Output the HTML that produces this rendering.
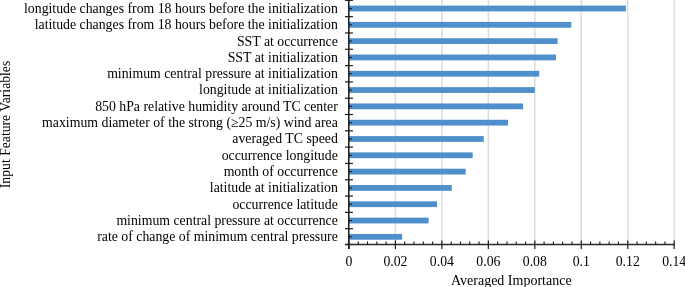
<!DOCTYPE html><html><head><meta charset="utf-8"><style>html,body{margin:0;padding:0;background:#fff;overflow:hidden}svg{display:block}text{font-family:"Liberation Serif","Times New Roman",serif;fill:#000}</style></head><body>
<svg width="685" height="287" viewBox="0 0 685 287">
<line x1="395.42" y1="0" x2="395.42" y2="244.50" stroke="#dcdcdc" stroke-width="1.5"/>
<line x1="441.88" y1="0" x2="441.88" y2="244.50" stroke="#dcdcdc" stroke-width="1.5"/>
<line x1="488.35" y1="0" x2="488.35" y2="244.50" stroke="#dcdcdc" stroke-width="1.5"/>
<line x1="534.81" y1="0" x2="534.81" y2="244.50" stroke="#dcdcdc" stroke-width="1.5"/>
<line x1="581.28" y1="0" x2="581.28" y2="244.50" stroke="#dcdcdc" stroke-width="1.5"/>
<line x1="627.75" y1="0" x2="627.75" y2="244.50" stroke="#dcdcdc" stroke-width="1.5"/>
<line x1="674.21" y1="0" x2="674.21" y2="244.50" stroke="#dcdcdc" stroke-width="1.5"/>
<rect x="348.95" y="5.60" width="276.95" height="5.8" fill="#4f8fcb"/>
<rect x="348.95" y="21.91" width="222.35" height="5.8" fill="#4f8fcb"/>
<rect x="348.95" y="38.23" width="208.65" height="5.8" fill="#4f8fcb"/>
<rect x="348.95" y="54.53" width="207.05" height="5.8" fill="#4f8fcb"/>
<rect x="348.95" y="70.84" width="190.25" height="5.8" fill="#4f8fcb"/>
<rect x="348.95" y="87.15" width="185.85" height="5.8" fill="#4f8fcb"/>
<rect x="348.95" y="103.46" width="174.15" height="5.8" fill="#4f8fcb"/>
<rect x="348.95" y="119.77" width="159.05" height="5.8" fill="#4f8fcb"/>
<rect x="348.95" y="136.08" width="134.75" height="5.8" fill="#4f8fcb"/>
<rect x="348.95" y="152.39" width="123.75" height="5.8" fill="#4f8fcb"/>
<rect x="348.95" y="168.70" width="116.75" height="5.8" fill="#4f8fcb"/>
<rect x="348.95" y="185.01" width="102.85" height="5.8" fill="#4f8fcb"/>
<rect x="348.95" y="201.32" width="88.05" height="5.8" fill="#4f8fcb"/>
<rect x="348.95" y="217.63" width="79.65" height="5.8" fill="#4f8fcb"/>
<rect x="348.95" y="233.94" width="53.15" height="5.8" fill="#4f8fcb"/>
<line x1="348.80" y1="0" x2="348.80" y2="249.00" stroke="#111" stroke-width="1.45"/>
<line x1="344.95" y1="0.35" x2="352.95" y2="0.35" stroke="#1a1a1a" stroke-width="1.2"/>
<line x1="344.95" y1="16.66" x2="352.95" y2="16.66" stroke="#1a1a1a" stroke-width="1.2"/>
<line x1="344.95" y1="32.97" x2="352.95" y2="32.97" stroke="#1a1a1a" stroke-width="1.2"/>
<line x1="344.95" y1="49.28" x2="352.95" y2="49.28" stroke="#1a1a1a" stroke-width="1.2"/>
<line x1="344.95" y1="65.59" x2="352.95" y2="65.59" stroke="#1a1a1a" stroke-width="1.2"/>
<line x1="344.95" y1="81.90" x2="352.95" y2="81.90" stroke="#1a1a1a" stroke-width="1.2"/>
<line x1="344.95" y1="98.21" x2="352.95" y2="98.21" stroke="#1a1a1a" stroke-width="1.2"/>
<line x1="344.95" y1="114.52" x2="352.95" y2="114.52" stroke="#1a1a1a" stroke-width="1.2"/>
<line x1="344.95" y1="130.83" x2="352.95" y2="130.83" stroke="#1a1a1a" stroke-width="1.2"/>
<line x1="344.95" y1="147.14" x2="352.95" y2="147.14" stroke="#1a1a1a" stroke-width="1.2"/>
<line x1="344.95" y1="163.45" x2="352.95" y2="163.45" stroke="#1a1a1a" stroke-width="1.2"/>
<line x1="344.95" y1="179.76" x2="352.95" y2="179.76" stroke="#1a1a1a" stroke-width="1.2"/>
<line x1="344.95" y1="196.07" x2="352.95" y2="196.07" stroke="#1a1a1a" stroke-width="1.2"/>
<line x1="344.95" y1="212.38" x2="352.95" y2="212.38" stroke="#1a1a1a" stroke-width="1.2"/>
<line x1="344.95" y1="228.69" x2="352.95" y2="228.69" stroke="#1a1a1a" stroke-width="1.2"/>
<line x1="344.95" y1="244.50" x2="352.95" y2="244.50" stroke="#1a1a1a" stroke-width="1.2"/>
<line x1="348.95" y1="8.50" x2="351.95" y2="8.50" stroke="#1a1a1a" stroke-width="1.1"/>
<line x1="348.95" y1="24.81" x2="351.95" y2="24.81" stroke="#1a1a1a" stroke-width="1.1"/>
<line x1="348.95" y1="41.12" x2="351.95" y2="41.12" stroke="#1a1a1a" stroke-width="1.1"/>
<line x1="348.95" y1="57.43" x2="351.95" y2="57.43" stroke="#1a1a1a" stroke-width="1.1"/>
<line x1="348.95" y1="73.74" x2="351.95" y2="73.74" stroke="#1a1a1a" stroke-width="1.1"/>
<line x1="348.95" y1="90.05" x2="351.95" y2="90.05" stroke="#1a1a1a" stroke-width="1.1"/>
<line x1="348.95" y1="106.36" x2="351.95" y2="106.36" stroke="#1a1a1a" stroke-width="1.1"/>
<line x1="348.95" y1="122.67" x2="351.95" y2="122.67" stroke="#1a1a1a" stroke-width="1.1"/>
<line x1="348.95" y1="138.98" x2="351.95" y2="138.98" stroke="#1a1a1a" stroke-width="1.1"/>
<line x1="348.95" y1="155.29" x2="351.95" y2="155.29" stroke="#1a1a1a" stroke-width="1.1"/>
<line x1="348.95" y1="171.60" x2="351.95" y2="171.60" stroke="#1a1a1a" stroke-width="1.1"/>
<line x1="348.95" y1="187.91" x2="351.95" y2="187.91" stroke="#1a1a1a" stroke-width="1.1"/>
<line x1="348.95" y1="204.22" x2="351.95" y2="204.22" stroke="#1a1a1a" stroke-width="1.1"/>
<line x1="348.95" y1="220.53" x2="351.95" y2="220.53" stroke="#1a1a1a" stroke-width="1.1"/>
<line x1="348.95" y1="236.84" x2="351.95" y2="236.84" stroke="#1a1a1a" stroke-width="1.1"/>
<line x1="344.95" y1="244.50" x2="674.71" y2="244.50" stroke="#2a2a2a" stroke-width="1.4"/>
<line x1="348.95" y1="240.50" x2="348.95" y2="249.00" stroke="#1a1a1a" stroke-width="1.2"/>
<line x1="395.42" y1="240.50" x2="395.42" y2="249.00" stroke="#1a1a1a" stroke-width="1.2"/>
<line x1="441.88" y1="240.50" x2="441.88" y2="249.00" stroke="#1a1a1a" stroke-width="1.2"/>
<line x1="488.35" y1="240.50" x2="488.35" y2="249.00" stroke="#1a1a1a" stroke-width="1.2"/>
<line x1="534.81" y1="240.50" x2="534.81" y2="249.00" stroke="#1a1a1a" stroke-width="1.2"/>
<line x1="581.28" y1="240.50" x2="581.28" y2="249.00" stroke="#1a1a1a" stroke-width="1.2"/>
<line x1="627.75" y1="240.50" x2="627.75" y2="249.00" stroke="#1a1a1a" stroke-width="1.2"/>
<line x1="674.21" y1="240.50" x2="674.21" y2="249.00" stroke="#1a1a1a" stroke-width="1.2"/>
<line x1="358.24" y1="241.50" x2="358.24" y2="244.50" stroke="#1a1a1a" stroke-width="1.1"/>
<line x1="367.54" y1="241.50" x2="367.54" y2="244.50" stroke="#1a1a1a" stroke-width="1.1"/>
<line x1="376.83" y1="241.50" x2="376.83" y2="244.50" stroke="#1a1a1a" stroke-width="1.1"/>
<line x1="386.12" y1="241.50" x2="386.12" y2="244.50" stroke="#1a1a1a" stroke-width="1.1"/>
<line x1="404.71" y1="241.50" x2="404.71" y2="244.50" stroke="#1a1a1a" stroke-width="1.1"/>
<line x1="414.00" y1="241.50" x2="414.00" y2="244.50" stroke="#1a1a1a" stroke-width="1.1"/>
<line x1="423.30" y1="241.50" x2="423.30" y2="244.50" stroke="#1a1a1a" stroke-width="1.1"/>
<line x1="432.59" y1="241.50" x2="432.59" y2="244.50" stroke="#1a1a1a" stroke-width="1.1"/>
<line x1="451.18" y1="241.50" x2="451.18" y2="244.50" stroke="#1a1a1a" stroke-width="1.1"/>
<line x1="460.47" y1="241.50" x2="460.47" y2="244.50" stroke="#1a1a1a" stroke-width="1.1"/>
<line x1="469.76" y1="241.50" x2="469.76" y2="244.50" stroke="#1a1a1a" stroke-width="1.1"/>
<line x1="479.05" y1="241.50" x2="479.05" y2="244.50" stroke="#1a1a1a" stroke-width="1.1"/>
<line x1="497.64" y1="241.50" x2="497.64" y2="244.50" stroke="#1a1a1a" stroke-width="1.1"/>
<line x1="506.93" y1="241.50" x2="506.93" y2="244.50" stroke="#1a1a1a" stroke-width="1.1"/>
<line x1="516.23" y1="241.50" x2="516.23" y2="244.50" stroke="#1a1a1a" stroke-width="1.1"/>
<line x1="525.52" y1="241.50" x2="525.52" y2="244.50" stroke="#1a1a1a" stroke-width="1.1"/>
<line x1="544.11" y1="241.50" x2="544.11" y2="244.50" stroke="#1a1a1a" stroke-width="1.1"/>
<line x1="553.40" y1="241.50" x2="553.40" y2="244.50" stroke="#1a1a1a" stroke-width="1.1"/>
<line x1="562.69" y1="241.50" x2="562.69" y2="244.50" stroke="#1a1a1a" stroke-width="1.1"/>
<line x1="571.99" y1="241.50" x2="571.99" y2="244.50" stroke="#1a1a1a" stroke-width="1.1"/>
<line x1="590.57" y1="241.50" x2="590.57" y2="244.50" stroke="#1a1a1a" stroke-width="1.1"/>
<line x1="599.87" y1="241.50" x2="599.87" y2="244.50" stroke="#1a1a1a" stroke-width="1.1"/>
<line x1="609.16" y1="241.50" x2="609.16" y2="244.50" stroke="#1a1a1a" stroke-width="1.1"/>
<line x1="618.45" y1="241.50" x2="618.45" y2="244.50" stroke="#1a1a1a" stroke-width="1.1"/>
<line x1="637.04" y1="241.50" x2="637.04" y2="244.50" stroke="#1a1a1a" stroke-width="1.1"/>
<line x1="646.33" y1="241.50" x2="646.33" y2="244.50" stroke="#1a1a1a" stroke-width="1.1"/>
<line x1="655.63" y1="241.50" x2="655.63" y2="244.50" stroke="#1a1a1a" stroke-width="1.1"/>
<line x1="664.92" y1="241.50" x2="664.92" y2="244.50" stroke="#1a1a1a" stroke-width="1.1"/>
<text x="337.8" y="12.90" font-size="13.8" text-anchor="end">longitude changes from 18 hours before the initialization</text>
<text x="337.8" y="29.21" font-size="13.8" text-anchor="end">latitude changes from 18 hours before the initialization</text>
<text x="337.8" y="45.52" font-size="13.8" text-anchor="end">SST at occurrence</text>
<text x="337.8" y="61.83" font-size="13.8" text-anchor="end">SST at initialization</text>
<text x="337.8" y="78.14" font-size="13.8" text-anchor="end">minimum central pressure at initialization</text>
<text x="337.8" y="94.45" font-size="13.8" text-anchor="end">longitude at initialization</text>
<text x="337.8" y="110.76" font-size="13.8" text-anchor="end">850 hPa relative humidity around TC center</text>
<text x="337.8" y="127.07" font-size="13.8" text-anchor="end">maximum diameter of the strong (≥25 m/s) wind area</text>
<text x="337.8" y="143.38" font-size="13.8" text-anchor="end">averaged TC speed</text>
<text x="337.8" y="159.69" font-size="13.8" text-anchor="end">occurrence longitude</text>
<text x="337.8" y="176.00" font-size="13.8" text-anchor="end">month of occurrence</text>
<text x="337.8" y="192.31" font-size="13.8" text-anchor="end">latitude at initialization</text>
<text x="337.8" y="208.62" font-size="13.8" text-anchor="end">occurrence latitude</text>
<text x="337.8" y="224.93" font-size="13.8" text-anchor="end">minimum central pressure at occurrence</text>
<text x="337.8" y="241.24" font-size="13.8" text-anchor="end">rate of change of minimum central pressure</text>
<text x="348.95" y="266.0" font-size="13.75" text-anchor="middle">0</text>
<text x="395.42" y="266.0" font-size="13.75" text-anchor="middle">0.02</text>
<text x="441.88" y="266.0" font-size="13.75" text-anchor="middle">0.04</text>
<text x="488.35" y="266.0" font-size="13.75" text-anchor="middle">0.06</text>
<text x="534.81" y="266.0" font-size="13.75" text-anchor="middle">0.08</text>
<text x="581.28" y="266.0" font-size="13.75" text-anchor="middle">0.1</text>
<text x="627.75" y="266.0" font-size="13.75" text-anchor="middle">0.12</text>
<text x="674.21" y="266.0" font-size="13.75" text-anchor="middle">0.14</text>
<text x="511.3" y="284.8" font-size="14" text-anchor="middle">Averaged Importance</text>
<text transform="translate(10.0,124.45) rotate(-90)" x="0" y="0" font-size="13.7" text-anchor="middle">Input Feature Variables</text>
</svg></body></html>
